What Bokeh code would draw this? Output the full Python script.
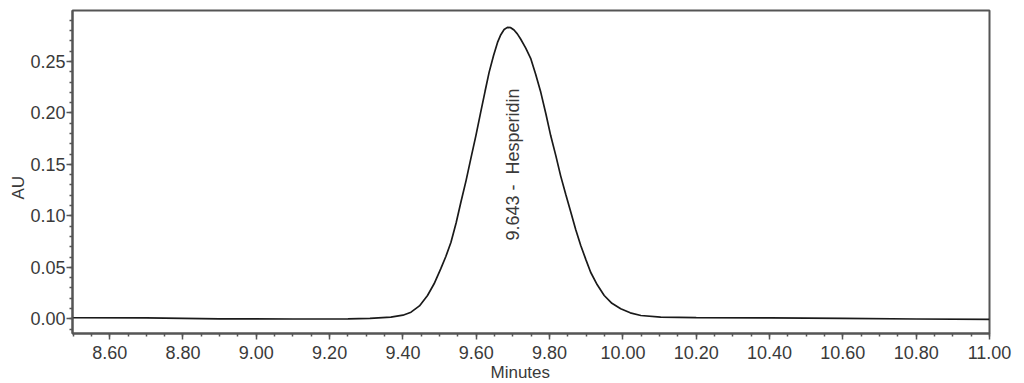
import math
from bokeh.plotting import figure
from bokeh.models import Range1d, FixedTicker, Title
from bokeh.core.properties import value
from bokeh.embed import file_html
from bokeh.resources import INLINE

# Chromatogram trace (minutes, AU)
time_min = [8.50, 8.70, 8.90, 9.10, 9.25, 9.31, 9.367, 9.40, 9.422, 9.445,
            9.467, 9.485, 9.503, 9.517, 9.531, 9.545, 9.558, 9.572, 9.585, 9.599,
            9.612, 9.624, 9.635, 9.647, 9.658, 9.667, 9.676, 9.685, 9.694, 9.703,
            9.712, 9.721, 9.735, 9.749, 9.762, 9.776, 9.790, 9.803, 9.817, 9.830,
            9.844, 9.858, 9.871, 9.885, 9.899, 9.912, 9.930, 9.949, 9.970, 9.994,
            10.02, 10.049, 10.103, 10.20, 10.40, 10.60, 10.80, 11.00]
absorbance = [0.0010, 0.0008, 0.0000, -0.0002, 0.0000, 0.0003, 0.0016, 0.0035, 0.0064, 0.0125,
              0.0226, 0.0340, 0.0485, 0.0605, 0.0743, 0.0930, 0.1132, 0.1340, 0.1553, 0.1780,
              0.2005, 0.2210, 0.2394, 0.2555, 0.2685, 0.2760, 0.2810, 0.2831, 0.2828, 0.2805,
              0.2768, 0.2718, 0.2630, 0.2524, 0.2375, 0.2200, 0.1990, 0.1780, 0.1585, 0.1391,
              0.1210, 0.1035, 0.0870, 0.0712, 0.0575, 0.0452, 0.0330, 0.0226, 0.0150, 0.0097,
              0.0058, 0.0032, 0.0016, 0.0012, 0.0008, 0.0003, -0.0002, -0.0006]

# Peak annotation
peak_label = "9.643 -\u00a0 Hesperidin"
peak_label_x = [9.699]
peak_label_y = [0.076]

# Axis titles
x_title = "Minutes"
y_title = "AU"

# Axis ticks
x_ticks = [8.6, 8.8, 9.0, 9.2, 9.4, 9.6, 9.8, 10.0, 10.2, 10.4, 10.6, 10.8, 11.0]
x_tick_labels = ["8.60", "8.80", "9.00", "9.20", "9.40", "9.60", "9.80", "10.00",
                 "10.20", "10.40", "10.60", "10.80", "11.00"]
x_minor = [round(8.50 + 0.05 * i, 2) for i in range(51)]
y_ticks = [0.0, 0.05, 0.10, 0.15, 0.20, 0.25]
y_tick_labels = ["0.00", "0.05", "0.10", "0.15", "0.20", "0.25"]
y_minor = [round(-0.01 + 0.01 * i, 2) for i in range(31)]

FONT = "Liberation Sans"
AX = "#555555"
TXT = "#3a3a3a"

p = figure(width=1016, height=383, output_backend="svg", toolbar_location=None,
           x_range=Range1d(8.4986, 11.0), y_range=Range1d(-0.0143, 0.2995),
           min_border_left=72, min_border_right=27, min_border_top=10, min_border_bottom=50)
p.background_fill_color = "white"
p.border_fill_color = "white"
p.outline_line_color = AX
p.outline_line_width = 2
p.xgrid.visible = False
p.ygrid.visible = False

p.line(time_min, absorbance, line_color="#1a1a1a", line_width=1.7)

p.text(x=peak_label_x, y=peak_label_y, text=[peak_label], angle=math.pi / 2,
       text_align="left", text_baseline="middle", text_font=value(FONT),
       text_font_size="18px", text_color=TXT)

for ax, ticks, labels, minor in ((p.xaxis[0], x_ticks, x_tick_labels, x_minor),
                                 (p.yaxis[0], y_ticks, y_tick_labels, y_minor)):
    ax.ticker = FixedTicker(ticks=ticks, minor_ticks=minor)
    ax.major_label_overrides = {t: l for t, l in zip(ticks, labels)}
    ax.axis_line_color = AX
    ax.axis_line_width = 2
    ax.major_tick_line_color = AX
    ax.minor_tick_line_color = AX
    ax.major_tick_line_width = 1.5
    ax.minor_tick_line_width = 1.5
    ax.major_tick_out = 6
    ax.major_tick_in = 0
    ax.minor_tick_out = 3
    ax.minor_tick_in = 0
    ax.major_label_text_font = FONT
    ax.major_label_text_font_size = "18px"
    ax.major_label_text_color = TXT

p.xaxis.major_label_standoff = 6
p.yaxis.major_label_standoff = 1

# Axis titles as Title panels so they can be shifted along the axis
p.add_layout(Title(text=x_title, align="left", offset=418, standoff=-2,
                   text_font=FONT, text_font_size="17px", text_font_style="normal",
                   text_color=TXT), "below")
p.add_layout(Title(text=y_title, align="left", offset=134, standoff=0,
                   text_font=FONT, text_font_size="17px", text_font_style="normal",
                   text_color=TXT), "left")

open("out.html", "w").write(file_html(p, INLINE))
